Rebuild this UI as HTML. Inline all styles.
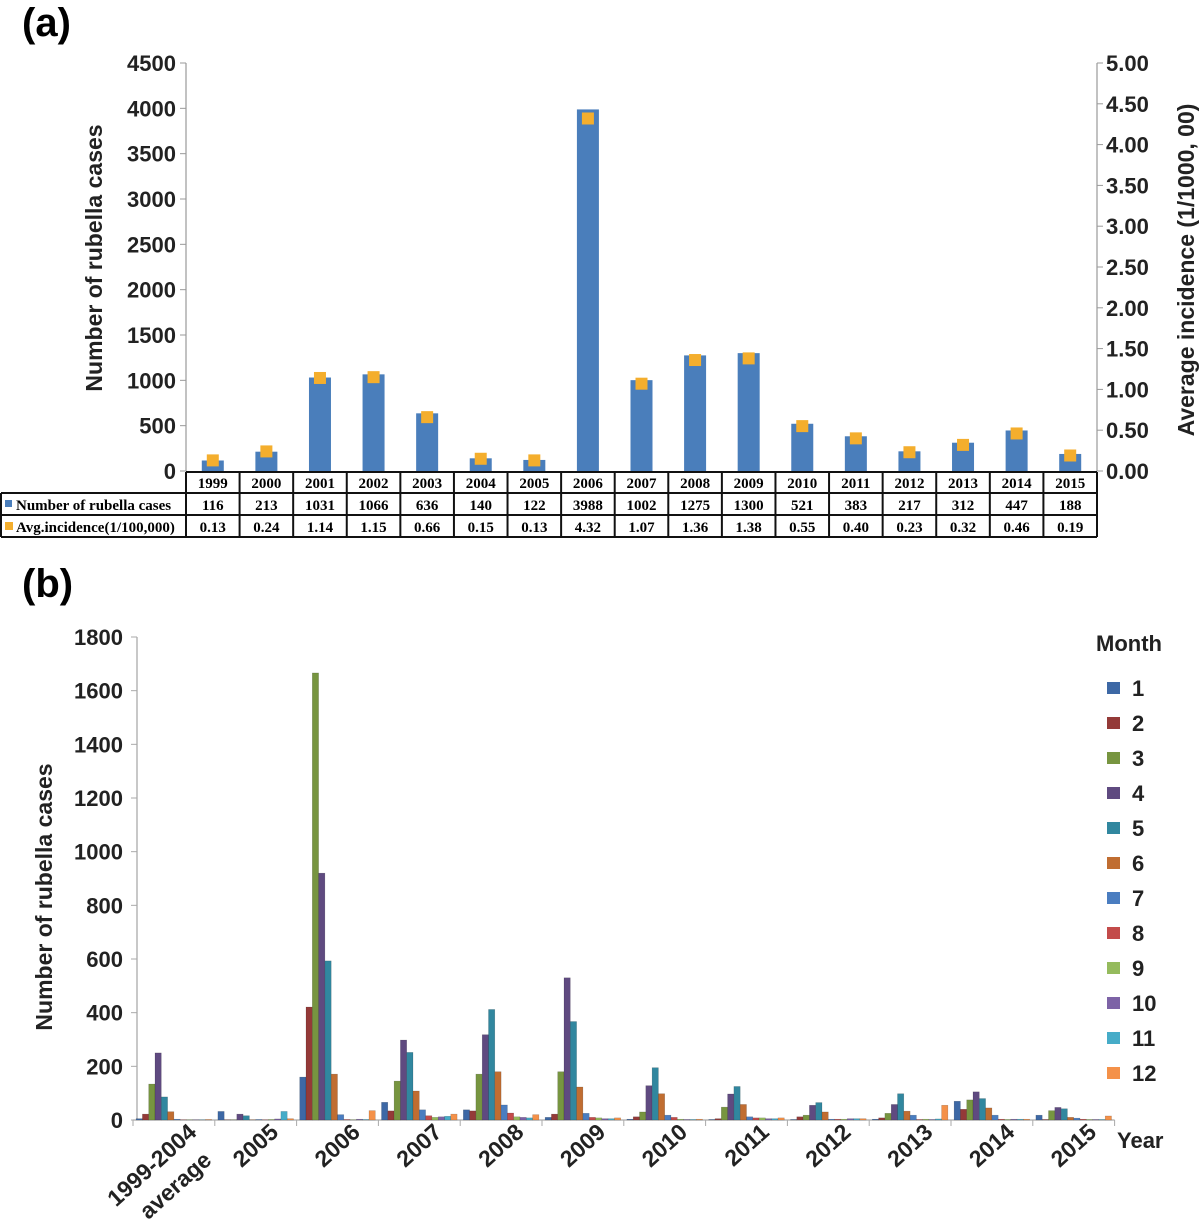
<!DOCTYPE html>
<html><head><meta charset="utf-8"><style>
body{margin:0;background:#fff}
svg{display:block;font-family:"Liberation Sans",Arial,sans-serif}
</style></head><body>
<svg id="chart" width="1200" height="1228" viewBox="0 0 1200 1228" xmlns="http://www.w3.org/2000/svg">
<text x="22" y="36" font-size="40" font-weight="bold">(a)</text>
<text x="22" y="597" font-size="40" font-weight="bold">(b)</text>
<g id="pa"></g>
<g id="pb"></g>
</svg>
<script>
const yearsA = ["1999","2000","2001","2002","2003","2004","2005","2006","2007","2008","2009","2010","2011","2012","2013","2014","2015"];
const casesA = [116,213,1031,1066,636,140,122,3988,1002,1275,1300,521,383,217,312,447,188];
const incidA = [0.13,0.24,1.14,1.15,0.66,0.15,0.13,4.32,1.07,1.36,1.38,0.55,0.40,0.23,0.32,0.46,0.19];
const leftTicksA = [0,500,1000,1500,2000,2500,3000,3500,4000,4500];
const rightTicksA = [0,0.5,1,1.5,2,2.5,3,3.5,4,4.5,5];

const groupsB = ["1999-2004|average","2005","2006","2007","2008","2009","2010","2011","2012","2013","2014","2015"];
const monthsB = ["1","2","3","4","5","6","7","8","9","10","11","12"];
const m1 = [5,32,160,66,38,10,3,2,2,3,70,18];
const m2 = [22,1,421,34,34,22,12,5,12,8,40,2];
const m3 = [134,1,1666,145,171,180,30,48,18,25,75,35];
const m4 = [250,22,920,298,318,530,128,97,55,58,105,47];
const m5 = [86,16,593,252,412,367,195,125,65,98,80,42];
const m6 = [31,1,171,108,180,123,98,58,30,33,45,10];
const m7 = [3,2,20,38,56,25,18,12,3,18,18,7];
const m8 = [1,1,2,16,26,10,10,8,3,2,3,3];
const m9 = [1,2,1,10,12,8,3,8,3,3,2,2];
const m10 = [1,4,3,12,10,5,2,5,5,2,3,2];
const m11 = [1,32,2,14,8,5,2,5,5,4,3,2];
const m12 = [2,5,35,22,20,8,3,8,5,55,3,15];
const seriesB = [m1,m2,m3,m4,m5,m6,m7,m8,m9,m10,m11,m12];
const ticksB = [0,200,400,600,800,1000,1200,1400,1600,1800];
const colorsB = ["#3d68a5","#943a38","#779540","#5f4a80","#31879f","#c06d31","#4a7dc0","#c34b4a","#95bb5d","#7d63a6","#46acc8","#f49149"];

const NS="http://www.w3.org/2000/svg";
function mk(parent,tag,attrs,txt){const e=document.createElementNS(NS,tag);for(const k in attrs)e.setAttribute(k,attrs[k]);if(txt!==undefined)e.textContent=txt;parent.appendChild(e);return e;}

// Panel A
const pa=document.getElementById('pa');
const aX0=186,aX1=1097,aY0=471,aY1=63;
const colW=(aX1-aX0)/yearsA.length;
const yA=v=>aY0-(v/4500)*(aY0-aY1);
const yR=v=>aY0-(v/5)*(aY0-aY1);
const xA=i=>aX0+colW*(i+0.5);
let l=mk(pa,'line',{x1:aX0,y1:aY1,x2:aX0,y2:aY0,stroke:'#999','stroke-width':1.2});

l=mk(pa,'line',{x1:aX1,y1:aY1,x2:aX1,y2:aY0,stroke:'#999','stroke-width':1.2});

leftTicksA.forEach(v=>{
  mk(pa,'line',{x1:aX0-6,y1:yA(v),x2:aX0,y2:yA(v),stroke:'#999'});
  const t=mk(pa,'text',{x:176,y:yA(v)+8,'text-anchor':'end','font-size':22,'font-weight':'bold',fill:'#222'},String(v));
  
});
rightTicksA.forEach(v=>{
  mk(pa,'line',{x1:aX1,y1:yR(v),x2:aX1+6,y2:yR(v),stroke:'#999'});
  const t=mk(pa,'text',{x:1106,y:yR(v)+8,'font-size':22,'font-weight':'bold',fill:'#222'},v.toFixed(2));
  
});
let tt=mk(pa,'text',{x:0,y:0,transform:'translate(102,258) rotate(-90)','text-anchor':'middle','font-size':23,'font-weight':'bold',fill:'#222'},'Number of rubella cases');

tt=mk(pa,'text',{x:0,y:0,transform:'translate(1194,270) rotate(-90)','text-anchor':'middle','font-size':23,'font-weight':'bold',fill:'#222'},'Average incidence (1/1000, 00)');

casesA.forEach((v,i)=>{
  const b=mk(pa,'rect',{x:xA(i)-11,y:yA(v),width:22,height:aY0-yA(v),fill:'#4a7ebb'});
  
});
incidA.forEach((v,i)=>{
  const m=mk(pa,'rect',{x:xA(i)-6,y:yR(v)-6,width:12,height:12,fill:'#f4ae2d'});
  
});
// table
const tY=[472,493,515,537];
mk(pa,'line',{x1:aX0,y1:tY[0],x2:aX1,y2:tY[0],stroke:'#111','stroke-width':2});
mk(pa,'line',{x1:1,y1:tY[1],x2:aX1,y2:tY[1],stroke:'#111','stroke-width':2});
mk(pa,'line',{x1:1,y1:tY[2],x2:aX1,y2:tY[2],stroke:'#111','stroke-width':2});
mk(pa,'line',{x1:1,y1:tY[3],x2:aX1,y2:tY[3],stroke:'#111','stroke-width':2});
mk(pa,'line',{x1:1,y1:tY[1],x2:1,y2:tY[3],stroke:'#111','stroke-width':2});
for(let i=0;i<=yearsA.length;i++){const x=aX0+colW*i;mk(pa,'line',{x1:x,y1:tY[0],x2:x,y2:tY[3],stroke:'#111','stroke-width':2});}
const serif='"Liberation Serif","Times New Roman",serif';
yearsA.forEach((y,i)=>{
  let t=mk(pa,'text',{x:xA(i),y:488,'text-anchor':'middle','font-size':15,'font-weight':'bold','font-family':serif},y);
  
  t=mk(pa,'text',{x:xA(i),y:510,'text-anchor':'middle','font-size':15,'font-weight':'bold','font-family':serif},String(casesA[i]));
  
  t=mk(pa,'text',{x:xA(i),y:532,'text-anchor':'middle','font-size':15,'font-weight':'bold','font-family':serif},incidA[i].toFixed(2));
  
});
mk(pa,'rect',{x:5,y:500,width:7,height:7,fill:'#4a7ebb'});
mk(pa,'rect',{x:5,y:522,width:8,height:8,fill:'#f4ae2d'});
tt=mk(pa,'text',{x:16,y:510,'font-size':15,'font-weight':'bold','font-family':serif},'Number of rubella cases');

tt=mk(pa,'text',{x:16,y:532,'font-size':15,'font-weight':'bold','font-family':serif},'Avg.incidence(1/100,000)');


// Panel B
const pb=document.getElementById('pb');
const bX0=133,gW=81.8,bY0=1120,bY1=637;
const yB=v=>bY0-(v/1800)*(bY0-bY1);
const barW=6.3;
l=mk(pb,'line',{x1:137,y1:bY1,x2:137,y2:bY0,stroke:'#aaa','stroke-width':1.3});

l=mk(pb,'line',{x1:133,y1:bY0,x2:bX0+gW*groupsB.length,y2:bY0,stroke:'#aaa','stroke-width':1.3});

ticksB.forEach(v=>{
  mk(pb,'line',{x1:131,y1:yB(v),x2:137,y2:yB(v),stroke:'#aaa'});
  const t=mk(pb,'text',{x:123,y:yB(v)+8,'text-anchor':'end','font-size':22,'font-weight':'bold',fill:'#222'},String(v));
  
});
for(let g=0;g<=groupsB.length;g++){const x=bX0+gW*g;mk(pb,'line',{x1:x,y1:bY0,x2:x,y2:bY0+6,stroke:'#aaa'});}
tt=mk(pb,'text',{x:0,y:0,transform:'translate(52,897) rotate(-90)','text-anchor':'middle','font-size':23,'font-weight':'bold',fill:'#222'},'Number of rubella cases');

seriesB.forEach((s,k)=>{
  s.forEach((v,g)=>{
    const x=bX0+gW*g+(gW-barW*12)/2+barW*k;
    const r=mk(pb,'rect',{x:x,y:yB(v),width:barW,height:bY0-yB(v),fill:colorsB[k],stroke:'rgba(0,0,0,0.25)','stroke-width':0.5});
    
  });
});
groupsB.forEach((gname,g)=>{
  const cx=bX0+gW*(g+0.5)+24;
  const parts=gname.split('|');
  const t=mk(pb,'text',{x:0,y:0,transform:'translate('+cx+',1134) rotate(-42)','text-anchor':'end','font-size':23,'font-weight':'bold',fill:'#222'},parts[0]);
  
  if(parts[1]){const t2=mk(pb,'text',{x:0,y:0,transform:'translate('+(cx+15)+',1162) rotate(-42)','text-anchor':'end','font-size':23,'font-weight':'bold',fill:'#222'},parts[1]);
  }
});
tt=mk(pb,'text',{x:1117,y:1148,'font-size':22,'font-weight':'bold',fill:'#222'},'Year');

tt=mk(pb,'text',{x:1096,y:651,'font-size':22,'font-weight':'bold',fill:'#222'},'Month');

monthsB.forEach((m,k)=>{
  const y=688+35*k;
  const r=mk(pb,'rect',{x:1107,y:y-6,width:13,height:12,fill:colorsB[k]});
  
  const t=mk(pb,'text',{x:1132,y:y+8,'font-size':22,'font-weight':'bold',fill:'#222'},m);
  
});
</script>
</body></html>
